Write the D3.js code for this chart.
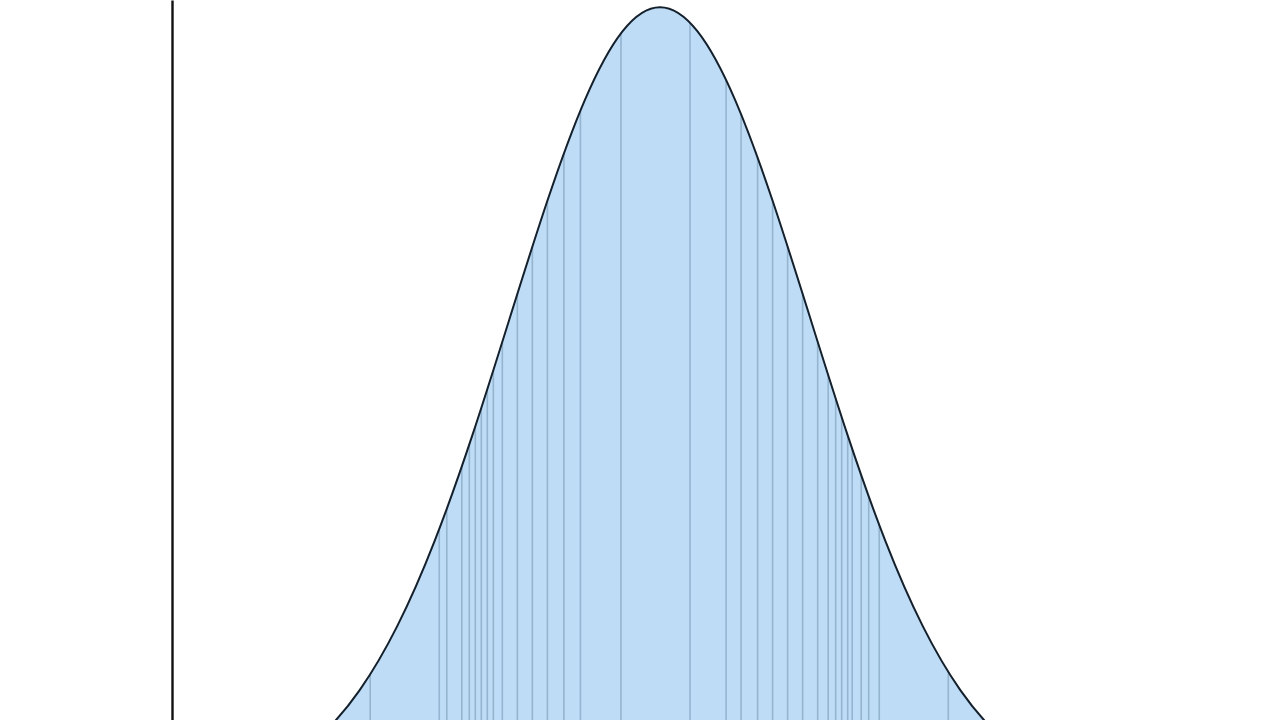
<!DOCTYPE html>
<html>
<head>
<meta charset="utf-8">
<script src="https://cdn.jsdelivr.net/npm/d3@7/dist/d3.min.js"></script>
<style>
  html, body { margin: 0; padding: 0; background: #ffffff; }
  svg { display: block; }
</style>
</head>
<body>
<svg id="chart" width="1280" height="720"></svg>
<script>
// Density curve (x value, density)
const curveX = [-3.5, -3.25, -3.0, -2.75, -2.5, -2.25, -2.0, -1.75, -1.5, -1.25, -1.0, -0.75, -0.5, -0.25, 0,
                0.25, 0.5, 0.75, 1.0, 1.25, 1.5, 1.75, 2.0, 2.25, 2.5, 2.75, 3.0, 3.25, 3.5];
const curveY = [0.0009, 0.0020, 0.0044, 0.0091, 0.0175, 0.0317, 0.0540, 0.0863, 0.1295, 0.1826, 0.2420, 0.3011, 0.3521, 0.3867, 0.3989,
                0.3867, 0.3521, 0.3011, 0.2420, 0.1826, 0.1295, 0.0863, 0.0540, 0.0317, 0.0175, 0.0091, 0.0044, 0.0020, 0.0009];
// Observations drawn as vertical rug lines under the curve
const samples = [-1.93, -1.47, -1.42, -1.32, -1.27, -1.23, -1.19, -1.15, -1.11, -1.05, -0.95, -0.85, -0.75, -0.64, -0.53, -0.26,
                 0.20, 0.44, 0.54, 0.65, 0.75, 0.85, 0.95, 1.05, 1.12, 1.17, 1.21, 1.25, 1.28, 1.34, 1.39, 1.46, 1.92];

const svg = d3.select("#chart");
const x = d3.scaleLinear().domain([-3.25, 3.25]).range([172, 1148]);
const y = d3.scaleLinear().domain([0, 0.4025]).range([797, 0]);

const pts = curveX.map((v, i) => [v, curveY[i]]);

const area = d3.area()
  .x(d => x(d[0]))
  .y0(y(0))
  .y1(d => y(d[1]))
  .curve(d3.curveNatural);
const line = d3.line()
  .x(d => x(d[0]))
  .y(d => y(d[1]))
  .curve(d3.curveNatural);

svg.append("defs").append("clipPath").attr("id", "under")
  .append("path").attr("d", area(pts));

svg.append("path")
  .attr("d", area(pts))
  .attr("fill", "#bedcf5");

svg.append("g").attr("clip-path", "url(#under)")
  .selectAll("line").data(samples).join("line")
  .attr("x1", d => x(d)).attr("x2", d => x(d))
  .attr("y1", y(0)).attr("y2", 0)
  .attr("stroke", "#94b4cf")
  .attr("stroke-width", 1.6);

svg.append("path")
  .attr("d", line(pts))
  .attr("fill", "none")
  .attr("stroke", "#14202c")
  .attr("stroke-width", 2);

const axis = svg.append("g")
  .attr("transform", `translate(${x.range()[0]},0)`)
  .call(d3.axisLeft(y).ticks(0).tickSizeOuter(0));
axis.select(".domain").attr("stroke", "#111").attr("stroke-width", 2.4);
</script>
</body>
</html>
